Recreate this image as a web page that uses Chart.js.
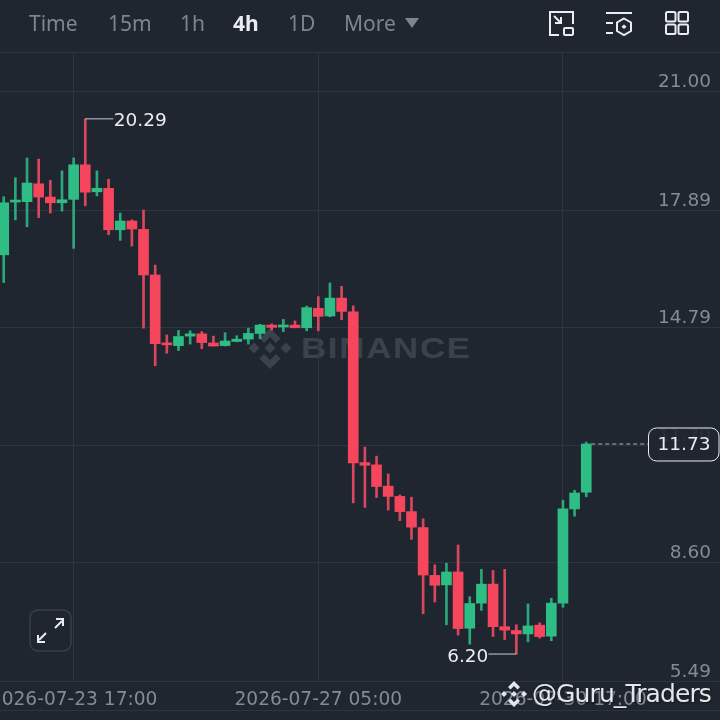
<!DOCTYPE html>
<html>
<head>
<meta charset="utf-8">
<style>
  html, body { margin: 0; padding: 0; background: #202630; }
  #page { position: relative; width: 720px; height: 720px; overflow: hidden; background: #202630; font-family: "Noto Sans", sans-serif; }
  #page > * { position: absolute; }
  .tab { top: 8px; font-size: 21px; line-height: 30px; color: #7c8592; }
  .tab.on { color: #eaecef; font-weight: 700; }
  .rule { left: 0; width: 720px; height: 1px; background: #2f3540; }
  #mark { left: 301px; top: 327px; font: 700 30px "Liberation Sans", sans-serif; letter-spacing: 1.5px; line-height: 42px; color: #3c424d; transform: scaleX(1.16); transform-origin: left center; }
  #credit { left: 532px; top: 677px; font: 25px "DejaVu Sans", sans-serif; line-height: 34px; letter-spacing: -0.9px; color: #e4e6ea; text-shadow: 0 0 3px #20263099, 1px 1px 2px #00000066; z-index: 5; }
  #chart { left: 0; top: 0; width: 720px; height: 720px; }
</style>
</head>
<body>
<div id="page">
  <svg style="left:247px;top:325px" width="46" height="46" viewBox="0 0 46 46" fill="#3c424d">
    <path d="M23 3 L33.5 13.5 L29 18 L23 12 L17 18 L12.5 13.5 Z"/>
    <path d="M7 17.5 L12.5 23 L7 28.5 L1.5 23 Z"/>
    <path d="M23 17.5 L28.5 23 L23 28.5 L17.5 23 Z"/>
    <path d="M39 17.5 L44.5 23 L39 28.5 L33.5 23 Z"/>
    <path d="M23 44 L12.5 33.5 L17 29 L23 35 L29 29 L33.5 33.5 Z"/>
  </svg>
  <div id="mark">BINANCE</div>
  <canvas id="chart" width="720" height="720"></canvas>

  <div class="tab" style="left:29px">Time</div>
  <div class="tab" style="left:108px">15m</div>
  <div class="tab" style="left:180px">1h</div>
  <div class="tab on" style="left:233px">4h</div>
  <div class="tab" style="left:288px">1D</div>
  <div class="tab" style="left:344px">More</div>
  <svg style="left:405px;top:18px" width="14" height="11"><path d="M0 0 H14 L7 10 Z" fill="#7c8592"/></svg>

  <svg style="left:546px;top:8px" width="150" height="32" fill="none" stroke="#eaecef" stroke-width="2">
    <path d="M13 27 H4 V4 H27 V16"/>
    <rect x="18" y="20" width="9" height="7" rx="1"/>
    <path d="M8 8 L15 15 M15 9 V15 H9"/>
    <path d="M60 5 H86"/>
    <path d="M60 15 H67 M60 25 H67"/>
    <path d="M78 10.5 L85 14.5 V23 L78 27 L71 23 V14.5 Z"/>
    <path d="M78 16.5 L80.5 18.8 L78 21 L75.5 18.8 Z" fill="#eaecef" stroke="none"/>
    <rect x="120" y="4" width="9.5" height="9.5" rx="1.5"/>
    <rect x="132.5" y="4" width="9.5" height="9.5" rx="1.5"/>
    <rect x="120" y="16.5" width="9.5" height="9.5" rx="1.5"/>
    <rect x="132.5" y="16.5" width="9.5" height="9.5" rx="1.5"/>
  </svg>

  <div class="rule" style="top:52px"></div>
  <div class="rule" style="top:710px"></div>

  <svg style="left:29px;top:609px" width="44" height="44" fill="none">
    <rect x="1" y="1" width="41" height="41" rx="8" stroke="#393f4a" stroke-width="1.5"/>
    <path d="M26 19 L33 12 M27 10 H34 V17 M17 24 L10 31 M16 33 H9 V26" stroke="#eaecef" stroke-width="2"/>
  </svg>

  <svg style="left:500px;top:680px;z-index:5" width="28" height="28" fill="#e4e6ea">
    <path d="M14 1 L20 7 L17.5 9.5 L14 6 L10.5 9.5 L8 7 Z"/>
    <path d="M4 11 L7 14 L4 17 L1 14 Z"/>
    <path d="M14 11 L17 14 L14 17 L11 14 Z"/>
    <path d="M24 11 L27 14 L24 17 L21 14 Z"/>
    <path d="M14 27 L8 21 L10.5 18.5 L14 22 L17.5 18.5 L20 21 Z"/>
  </svg>
  <div id="credit">@Guru_Traders</div>
</div>

<script src="https://cdn.jsdelivr.net/npm/chart.js@4"></script>
<script>
// 4h candles
const opens = [16.71,18.10,18.11,18.58,18.23,18.08,18.17,19.08,18.37,18.46,17.37,17.60,17.38,16.18,14.37,14.32,14.57,14.63,14.39,14.32,14.43,14.49,14.64,14.86,14.81,14.86,14.79,15.30,15.10,15.57,15.21,11.24,11.18,10.62,10.35,9.95,9.53,8.27,8.02,8.36,6.88,7.54,8.04,6.92,6.82,6.73,6.96,6.67,7.54,10.02,10.46];
const highs = [18.24,18.74,19.26,19.23,18.67,18.92,19.26,20.29,18.92,18.70,17.81,17.63,17.89,16.44,14.60,14.72,14.71,14.69,14.57,14.66,14.58,14.78,14.88,14.89,15.01,14.97,15.36,15.61,15.97,15.88,15.37,11.65,11.41,10.94,10.39,10.33,9.76,8.55,8.59,9.07,7.71,8.43,8.40,8.43,6.97,7.52,7.02,7.67,10.25,10.51,11.78];
const lows = [15.98,17.63,17.45,17.69,17.81,17.86,16.88,18.00,18.26,17.24,17.09,16.94,14.78,13.79,14.12,14.19,14.36,14.24,14.31,14.31,14.42,14.36,14.50,14.73,14.69,14.79,14.71,14.71,15.08,15.00,10.18,10.06,10.32,9.99,9.71,9.22,7.26,7.57,6.97,6.70,6.46,7.35,6.66,6.58,6.20,6.52,6.62,6.55,7.43,9.83,10.34];
const closes = [18.08,18.13,18.60,18.23,18.08,18.16,19.08,18.36,18.46,17.37,17.60,17.39,16.18,14.37,14.34,14.56,14.63,14.40,14.31,14.44,14.49,14.64,14.86,14.80,14.86,14.79,15.32,15.09,15.57,15.22,11.23,11.17,10.61,10.35,9.95,9.54,8.28,8.01,8.36,6.87,7.53,8.04,6.92,6.83,6.73,6.94,6.66,7.54,10.02,10.44,11.73];

const priceTicks = [5.49, 8.60, 11.70, 14.79, 17.89, 21.00];
const timeTicks = [6, 27, 48];
const timeLabels = ["2026-07-23 17:00", "2026-07-27 05:00", "2026-07-30 17:00"];

const UP = "#2ebd85", DOWN = "#f6465d";
const UP_WICK = "#2aa87b", DOWN_WICK = "#d8475d";
const GRID = "#2f3540";
const FONT = "'DejaVu Sans', sans-serif";

const isUp = i => closes[i] >= opens[i];

// high / low callouts and the last price tag
const callouts = {
  id: "callouts",
  afterDraw(chart) {
    const { ctx, scales: { x, y } } = chart;
    ctx.save();
    ctx.font = "18.5px " + FONT;
    ctx.textBaseline = "middle";

    const hi = highs.indexOf(Math.max(...highs));
    const hx = x.getPixelForValue(hi), hy = y.getPixelForValue(highs[hi]);
    ctx.strokeStyle = "#c9ccd1";
    ctx.lineWidth = 1;
    ctx.beginPath();
    ctx.moveTo(hx, hy);
    ctx.lineTo(hx + 28, hy);
    ctx.stroke();
    ctx.fillStyle = "#eaecef";
    ctx.textAlign = "left";
    ctx.fillText(highs[hi].toFixed(2), hx + 28.5, hy + 2);

    const lo = lows.indexOf(Math.min(...lows));
    const lx = x.getPixelForValue(lo), ly = y.getPixelForValue(lows[lo]);
    ctx.beginPath();
    ctx.moveTo(lx, ly);
    ctx.lineTo(lx - 28, ly);
    ctx.stroke();
    ctx.textAlign = "right";
    ctx.fillText(lows[lo].toFixed(2), lx - 28, ly + 3);

    const last = closes.length - 1;
    const px = x.getPixelForValue(last) + 5, py = y.getPixelForValue(closes[last]);
    ctx.setLineDash([4, 3]);
    ctx.strokeStyle = "#aeb3ba";
    ctx.beginPath();
    ctx.moveTo(px, py);
    ctx.lineTo(648, py);
    ctx.stroke();
    ctx.setLineDash([]);
    ctx.beginPath();
    ctx.roundRect(648.5, py - 16, 70.5, 33, 8);
    ctx.fillStyle = "rgba(32,38,48,0.88)";
    ctx.fill();
    ctx.strokeStyle = "#eaecef";
    ctx.stroke();
    ctx.fillStyle = "#eaecef";
    ctx.textAlign = "center";
    ctx.fillText(closes[last].toFixed(2), 684, py + 1);
    ctx.restore();
  }
};

new Chart(document.getElementById("chart"), {
  type: "bar",
  plugins: [callouts],
  data: {
    datasets: [
      {
        data: opens.map((o, i) => ({ x: i, y: [o, closes[i]] })),
        backgroundColor: opens.map((o, i) => isUp(i) ? UP : DOWN),
        barThickness: 10,
        minBarLength: 2,
        grouped: false
      },
      {
        data: lows.map((l, i) => ({ x: i, y: [l, highs[i]] })),
        backgroundColor: lows.map((l, i) => isUp(i) ? UP_WICK : DOWN_WICK),
        barThickness: 2,
        grouped: false
      }
    ]
  },
  options: {
    responsive: false,
    animation: false,
    events: [],
    layout: { padding: { top: 52, left: 0, right: 0, bottom: 0 } },
    plugins: { legend: { display: false }, tooltip: { enabled: false } },
    scales: {
      x: {
        type: "linear",
        offset: false,
        min: -0.32,
        max: 61.48,
        grid: { color: GRID, drawTicks: false, offset: false },
        border: { display: false },
        afterBuildTicks: s => { s.ticks = timeTicks.map(v => ({ value: v })); },
        afterFit: s => { s.height = 39; s.paddingLeft = 0; s.paddingRight = 0; },
        ticks: {
          autoSkip: false,
          maxRotation: 0,
          padding: 8,
          color: "#838b97",
          font: { family: FONT, size: 18.6 },
          callback: v => timeLabels[timeTicks.indexOf(v)]
        }
      },
      y: {
        position: "right",
        min: 5.49,
        max: 22.05,
        grid: { color: GRID, drawTicks: false },
        border: { display: false },
        afterBuildTicks: s => { s.ticks = priceTicks.map(v => ({ value: v })); },
        afterFit: s => { s.width = 0; s.paddingTop = 0; s.paddingBottom = 0; },
        ticks: {
          mirror: true,
          padding: -9,
          color: "#838b97",
          font: { family: FONT, size: 18.5, lineHeight: 1 },
          // empty second line lifts the price above its grid line
          callback: v => [v.toFixed(2), ""]
        }
      }
    }
  }
});
</script>
</body>
</html>
